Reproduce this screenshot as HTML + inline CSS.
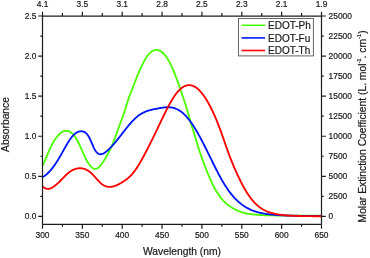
<!DOCTYPE html>
<html><head><meta charset="utf-8"><style>
html,body{margin:0;padding:0;background:#fff;width:370px;height:258px;overflow:hidden}
svg{display:block}
</style></head><body>
<svg width="370" height="258" viewBox="0 0 370 258"><g fill="none" stroke-width="1.85" stroke-linejoin="round" stroke-linecap="butt"><path d="M42.50,165.25 43.00,164.46 43.50,163.57 44.00,162.60 44.50,161.54 45.00,160.43 45.50,159.27 46.00,158.07 46.50,156.85 47.00,155.62 47.50,154.40 48.00,153.19 48.50,152.01 49.00,150.86 49.50,149.75 50.00,148.66 50.50,147.61 51.00,146.59 51.50,145.60 52.00,144.64 52.50,143.71 53.00,142.81 53.50,141.95 54.00,141.11 54.50,140.31 55.00,139.54 55.50,138.80 56.00,138.09 56.50,137.41 57.00,136.77 57.50,136.15 58.00,135.57 58.50,135.02 59.00,134.50 59.50,134.01 60.00,133.56 60.50,133.13 61.00,132.75 61.50,132.39 62.00,132.07 62.50,131.78 63.00,131.53 63.50,131.32 64.00,131.13 64.50,130.99 65.00,130.88 65.50,130.80 66.00,130.77 66.50,130.77 67.00,130.80 67.50,130.88 68.00,130.99 68.50,131.14 69.00,131.33 69.50,131.56 70.00,131.83 70.50,132.13 71.00,132.48 71.50,132.87 72.00,133.30 72.50,133.77 73.00,134.28 73.50,134.83 74.00,135.42 74.50,136.06 75.00,136.74 75.50,137.46 76.00,138.22 76.50,139.03 77.00,139.89 77.50,140.78 78.00,141.72 78.50,142.71 79.00,143.73 79.50,144.79 80.00,145.88 80.50,146.99 81.00,148.12 81.50,149.25 82.00,150.40 82.50,151.54 83.00,152.68 83.50,153.81 84.00,154.92 84.50,156.00 85.00,157.06 85.50,158.09 86.00,159.09 86.50,160.04 87.00,160.96 87.50,161.84 88.00,162.67 88.50,163.47 89.00,164.21 89.50,164.91 90.00,165.56 90.50,166.16 91.00,166.70 91.50,167.19 92.00,167.63 92.50,168.00 93.00,168.31 93.50,168.57 94.00,168.75 94.50,168.87 95.00,168.93 95.50,168.91 96.00,168.83 96.50,168.68 97.00,168.47 97.50,168.20 98.00,167.87 98.50,167.49 99.00,167.05 99.50,166.57 100.00,166.05 100.50,165.48 101.00,164.87 101.50,164.22 102.00,163.54 102.50,162.83 103.00,162.08 103.50,161.32 104.00,160.52 104.50,159.71 105.00,158.88 105.50,158.04 106.00,157.18 106.50,156.32 107.00,155.44 107.50,154.56 108.00,153.66 108.50,152.74 109.00,151.80 109.50,150.83 110.00,149.82 110.50,148.78 111.00,147.69 111.50,146.56 112.00,145.40 112.50,144.21 113.00,142.98 113.50,141.73 114.00,140.45 114.50,139.15 115.00,137.83 115.50,136.49 116.00,135.14 116.50,133.78 117.00,132.41 117.50,131.03 118.00,129.64 118.50,128.26 119.00,126.88 119.50,125.50 120.00,124.13 120.50,122.77 121.00,121.41 121.50,120.05 122.00,118.68 122.50,117.30 123.00,115.90 123.50,114.48 124.00,113.02 124.50,111.53 125.00,110.00 125.50,108.43 126.00,106.82 126.50,105.20 127.00,103.58 127.50,101.97 128.00,100.40 128.50,98.87 129.00,97.40 129.50,96.01 130.00,94.72 130.50,93.48 131.00,92.22 131.50,90.96 132.00,89.68 132.50,88.40 133.00,87.11 133.50,85.81 134.00,84.52 134.50,83.23 135.00,81.94 135.50,80.66 136.00,79.38 136.50,78.12 137.00,76.87 137.50,75.63 138.00,74.41 138.50,73.21 139.00,72.02 139.50,70.85 140.00,69.70 140.50,68.57 141.00,67.47 141.50,66.38 142.00,65.33 142.50,64.30 143.00,63.30 143.50,62.33 144.00,61.39 144.50,60.48 145.00,59.61 145.50,58.77 146.00,57.97 146.50,57.20 147.00,56.47 147.50,55.79 148.00,55.14 148.50,54.52 149.00,53.95 149.50,53.42 150.00,52.92 150.50,52.46 151.00,52.04 151.50,51.66 152.00,51.31 152.50,51.00 153.00,50.73 153.50,50.50 154.00,50.30 154.50,50.14 155.00,50.02 155.50,49.93 156.00,49.88 156.50,49.87 157.00,49.90 157.50,49.96 158.00,50.06 158.50,50.19 159.00,50.36 159.50,50.57 160.00,50.81 160.50,51.09 161.00,51.40 161.50,51.75 162.00,52.14 162.50,52.56 163.00,53.01 163.50,53.50 164.00,54.03 164.50,54.59 165.00,55.19 165.50,55.82 166.00,56.49 166.50,57.19 167.00,57.93 167.50,58.70 168.00,59.51 168.50,60.35 169.00,61.23 169.50,62.14 170.00,63.08 170.50,64.06 171.00,65.08 171.50,66.12 172.00,67.21 172.50,68.32 173.00,69.47 173.50,70.66 174.00,71.88 174.50,73.12 175.00,74.40 175.50,75.70 176.00,77.03 176.50,78.38 177.00,79.74 177.50,81.13 178.00,82.53 178.50,83.95 179.00,85.38 179.50,86.82 180.00,88.26 180.50,89.72 181.00,91.17 181.50,92.63 182.00,94.09 182.50,95.55 183.00,97.02 183.50,98.50 184.00,99.99 184.50,101.50 185.00,103.03 185.50,104.58 186.00,106.16 186.50,107.78 187.00,109.43 187.50,111.12 188.00,112.86 188.50,114.64 189.00,116.47 189.50,118.35 190.00,120.24 190.50,122.10 191.00,123.86 191.50,125.52 192.00,127.07 192.50,128.57 193.00,130.05 193.50,131.53 194.00,133.06 194.50,134.64 195.00,136.27 195.50,137.94 196.00,139.63 196.50,141.33 197.00,143.02 197.50,144.69 198.00,146.34 198.50,147.94 199.00,149.49 199.50,150.99 200.00,152.45 200.50,153.88 201.00,155.28 201.50,156.68 202.00,158.06 202.50,159.44 203.00,160.81 203.50,162.17 204.00,163.52 204.50,164.85 205.00,166.18 205.50,167.49 206.00,168.79 206.50,170.07 207.00,171.34 207.50,172.59 208.00,173.83 208.50,175.04 209.00,176.24 209.50,177.42 210.00,178.58 210.50,179.72 211.00,180.83 211.50,181.92 212.00,182.99 212.50,184.03 213.00,185.05 213.50,186.04 214.00,187.01 214.50,187.95 215.00,188.86 215.50,189.75 216.00,190.61 216.50,191.44 217.00,192.25 217.50,193.04 218.00,193.81 218.50,194.55 219.00,195.27 219.50,195.97 220.00,196.64 220.50,197.30 221.00,197.93 221.50,198.55 222.00,199.14 222.50,199.72 223.00,200.28 223.50,200.81 224.00,201.34 224.50,201.84 225.00,202.33 225.50,202.80 226.00,203.26 226.50,203.70 227.00,204.13 227.50,204.54 228.00,204.94 228.50,205.33 229.00,205.70 229.50,206.06 230.00,206.41 230.50,206.75 231.00,207.08 231.50,207.40 232.00,207.70 232.50,208.00 233.00,208.29 233.50,208.57 234.00,208.85 234.50,209.11 235.00,209.37 235.50,209.63 236.00,209.87 236.50,210.11 237.00,210.34 237.50,210.57 238.00,210.79 238.50,211.00 239.00,211.20 239.50,211.40 240.00,211.60 240.50,211.78 241.00,211.96 241.50,212.13 242.00,212.29 242.50,212.45 243.00,212.59 243.50,212.73 244.00,212.87 244.50,212.99 245.00,213.12 245.50,213.23 246.00,213.34 246.50,213.45 247.00,213.55 247.50,213.64 248.00,213.73 248.50,213.82 249.00,213.90 249.50,213.98 250.00,214.06 250.50,214.13 251.00,214.20 251.50,214.26 252.00,214.33 252.50,214.38 253.00,214.44 253.50,214.50 254.00,214.55 254.50,214.60 255.00,214.64 255.50,214.69 256.00,214.73 256.50,214.77 257.00,214.81 257.50,214.85 258.00,214.88 258.50,214.91 259.00,214.95 259.50,214.98 260.00,215.01 260.50,215.03 261.00,215.06 261.50,215.08 262.00,215.11 262.50,215.13 263.00,215.15 263.50,215.17 264.00,215.19 264.50,215.21 265.00,215.23 265.50,215.25 266.00,215.26 266.50,215.28 267.00,215.30 267.50,215.31 268.00,215.32 268.50,215.34 269.00,215.35 269.50,215.36 270.00,215.37 270.50,215.38 271.00,215.39 271.50,215.40 272.00,215.41 272.50,215.42 273.00,215.43 273.50,215.44 274.00,215.44 274.50,215.45 275.00,215.46 275.50,215.46 276.00,215.47 276.50,215.48 277.00,215.48 277.50,215.49 278.00,215.49 278.50,215.50 279.00,215.50 279.50,215.51 280.00,215.51 280.50,215.52 281.00,215.52 281.50,215.52 282.00,215.53 282.50,215.53 283.00,215.53 283.50,215.54 284.00,215.54 284.50,215.54 285.00,215.55 285.50,215.55 286.00,215.55 286.50,215.55 287.00,215.55 287.50,215.56 288.00,215.56 288.50,215.56 289.00,215.56 289.50,215.56 290.00,215.57 290.50,215.57 291.00,215.57 291.50,215.57 292.00,215.57 292.50,215.57 293.00,215.57 293.50,215.58 294.00,215.58 294.50,215.58 295.00,215.58 295.50,215.58 296.00,215.58 296.50,215.58 297.00,215.58 297.50,215.58 298.00,215.58 298.50,215.58 299.00,215.59 299.50,215.59 300.00,215.59 300.50,215.59 301.00,215.59 301.50,215.59 302.00,215.59 302.50,215.59 303.00,215.59 303.50,215.59 304.00,215.59 304.50,215.59 305.00,215.59 305.50,215.59 306.00,215.59 306.50,215.59 307.00,215.59 307.50,215.59 308.00,215.59 308.50,215.59 309.00,215.59 309.50,215.59 310.00,215.59 310.50,215.60 311.00,215.60 311.50,215.60 312.00,215.60 312.50,215.60 313.00,215.60 313.50,215.60 314.00,215.60 314.50,215.60 315.00,215.60 315.50,215.60 316.00,215.60 316.50,215.60 317.00,215.60 317.50,215.60 318.00,215.60 318.50,215.60 319.00,215.60 319.50,215.60 320.00,215.60 320.50,215.60 321.00,215.60 321.50,215.60" stroke="#4cff00"/><path d="M42.50,177.11 43.00,176.84 43.50,176.55 44.00,176.24 44.50,175.91 45.00,175.56 45.50,175.19 46.00,174.79 46.50,174.38 47.00,173.95 47.50,173.49 48.00,173.02 48.50,172.53 49.00,172.01 49.50,171.48 50.00,170.93 50.50,170.37 51.00,169.78 51.50,169.18 52.00,168.56 52.50,167.92 53.00,167.27 53.50,166.60 54.00,165.91 54.50,165.21 55.00,164.50 55.50,163.76 56.00,163.02 56.50,162.26 57.00,161.48 57.50,160.69 58.00,159.89 58.50,159.07 59.00,158.24 59.50,157.40 60.00,156.54 60.50,155.67 61.00,154.80 61.50,153.92 62.00,153.03 62.50,152.13 63.00,151.24 63.50,150.34 64.00,149.45 64.50,148.56 65.00,147.67 65.50,146.79 66.00,145.92 66.50,145.06 67.00,144.21 67.50,143.37 68.00,142.55 68.50,141.75 69.00,140.96 69.50,140.20 70.00,139.46 70.50,138.74 71.00,138.05 71.50,137.39 72.00,136.76 72.50,136.16 73.00,135.59 73.50,135.06 74.00,134.56 74.50,134.10 75.00,133.68 75.50,133.29 76.00,132.94 76.50,132.62 77.00,132.34 77.50,132.10 78.00,131.88 78.50,131.70 79.00,131.56 79.50,131.44 80.00,131.36 80.50,131.31 81.00,131.29 81.50,131.29 82.00,131.33 82.50,131.40 83.00,131.51 83.50,131.65 84.00,131.84 84.50,132.08 85.00,132.37 85.50,132.71 86.00,133.12 86.50,133.59 87.00,134.13 87.50,134.74 88.00,135.43 88.50,136.20 89.00,137.05 89.50,138.00 90.00,139.02 90.50,140.11 91.00,141.25 91.50,142.42 92.00,143.60 92.50,144.77 93.00,145.93 93.50,147.04 94.00,148.10 94.50,149.09 95.00,149.99 95.50,150.80 96.00,151.51 96.50,152.13 97.00,152.66 97.50,153.11 98.00,153.48 98.50,153.77 99.00,154.00 99.50,154.15 100.00,154.25 100.50,154.28 101.00,154.25 101.50,154.18 102.00,154.05 102.50,153.88 103.00,153.67 103.50,153.42 104.00,153.13 104.50,152.82 105.00,152.48 105.50,152.11 106.00,151.73 106.50,151.33 107.00,150.92 107.50,150.49 108.00,150.04 108.50,149.59 109.00,149.12 109.50,148.63 110.00,148.14 110.50,147.63 111.00,147.11 111.50,146.58 112.00,146.04 112.50,145.49 113.00,144.93 113.50,144.36 114.00,143.78 114.50,143.20 115.00,142.61 115.50,142.01 116.00,141.40 116.50,140.79 117.00,140.18 117.50,139.55 118.00,138.93 118.50,138.30 119.00,137.67 119.50,137.03 120.00,136.39 120.50,135.75 121.00,135.11 121.50,134.47 122.00,133.82 122.50,133.18 123.00,132.54 123.50,131.90 124.00,131.26 124.50,130.62 125.00,129.98 125.50,129.35 126.00,128.72 126.50,128.10 127.00,127.48 127.50,126.86 128.00,126.25 128.50,125.65 129.00,125.05 129.50,124.46 130.00,123.88 130.50,123.30 131.00,122.74 131.50,122.18 132.00,121.63 132.50,121.10 133.00,120.57 133.50,120.05 134.00,119.55 134.50,119.06 135.00,118.58 135.50,118.11 136.00,117.66 136.50,117.22 137.00,116.79 137.50,116.38 138.00,115.99 138.50,115.61 139.00,115.24 139.50,114.89 140.00,114.56 140.50,114.23 141.00,113.92 141.50,113.62 142.00,113.34 142.50,113.06 143.00,112.80 143.50,112.55 144.00,112.31 144.50,112.08 145.00,111.86 145.50,111.65 146.00,111.45 146.50,111.26 147.00,111.07 147.50,110.90 148.00,110.73 148.50,110.57 149.00,110.42 149.50,110.27 150.00,110.13 150.50,110.00 151.00,109.87 151.50,109.75 152.00,109.63 152.50,109.52 153.00,109.41 153.50,109.30 154.00,109.20 154.50,109.10 155.00,109.00 155.50,108.91 156.00,108.81 156.50,108.72 157.00,108.63 157.50,108.54 158.00,108.45 158.50,108.36 159.00,108.27 159.50,108.18 160.00,108.09 160.50,108.00 161.00,107.92 161.50,107.83 162.00,107.75 162.50,107.67 163.00,107.60 163.50,107.53 164.00,107.47 164.50,107.41 165.00,107.35 165.50,107.31 166.00,107.27 166.50,107.24 167.00,107.22 167.50,107.20 168.00,107.20 168.50,107.21 169.00,107.23 169.50,107.25 170.00,107.30 170.50,107.35 171.00,107.41 171.50,107.49 172.00,107.58 172.50,107.69 173.00,107.80 173.50,107.93 174.00,108.07 174.50,108.23 175.00,108.40 175.50,108.59 176.00,108.79 176.50,109.00 177.00,109.23 177.50,109.47 178.00,109.73 178.50,110.01 179.00,110.30 179.50,110.60 180.00,110.92 180.50,111.26 181.00,111.62 181.50,111.99 182.00,112.38 182.50,112.78 183.00,113.21 183.50,113.65 184.00,114.11 184.50,114.58 185.00,115.08 185.50,115.59 186.00,116.12 186.50,116.67 187.00,117.24 187.50,117.82 188.00,118.43 188.50,119.04 189.00,119.68 189.50,120.33 190.00,120.99 190.50,121.68 191.00,122.37 191.50,123.08 192.00,123.81 192.50,124.55 193.00,125.30 193.50,126.07 194.00,126.85 194.50,127.65 195.00,128.45 195.50,129.27 196.00,130.10 196.50,130.95 197.00,131.80 197.50,132.67 198.00,133.54 198.50,134.43 199.00,135.33 199.50,136.23 200.00,137.15 200.50,138.08 201.00,139.01 201.50,139.96 202.00,140.91 202.50,141.87 203.00,142.84 203.50,143.81 204.00,144.79 204.50,145.78 205.00,146.77 205.50,147.77 206.00,148.77 206.50,149.78 207.00,150.78 207.50,151.80 208.00,152.81 208.50,153.83 209.00,154.84 209.50,155.86 210.00,156.88 210.50,157.90 211.00,158.92 211.50,159.94 212.00,160.95 212.50,161.97 213.00,162.98 213.50,163.99 214.00,164.99 214.50,166.00 215.00,166.99 215.50,167.99 216.00,168.97 216.50,169.96 217.00,170.93 217.50,171.90 218.00,172.86 218.50,173.81 219.00,174.76 219.50,175.69 220.00,176.62 220.50,177.54 221.00,178.44 221.50,179.34 222.00,180.22 222.50,181.10 223.00,181.96 223.50,182.81 224.00,183.64 224.50,184.46 225.00,185.27 225.50,186.06 226.00,186.84 226.50,187.60 227.00,188.35 227.50,189.08 228.00,189.80 228.50,190.50 229.00,191.19 229.50,191.87 230.00,192.53 230.50,193.18 231.00,193.81 231.50,194.43 232.00,195.03 232.50,195.63 233.00,196.21 233.50,196.77 234.00,197.33 234.50,197.87 235.00,198.40 235.50,198.92 236.00,199.42 236.50,199.92 237.00,200.40 237.50,200.87 238.00,201.33 238.50,201.78 239.00,202.22 239.50,202.64 240.00,203.06 240.50,203.47 241.00,203.86 241.50,204.25 242.00,204.62 242.50,204.99 243.00,205.34 243.50,205.69 244.00,206.03 244.50,206.35 245.00,206.67 245.50,206.98 246.00,207.29 246.50,207.58 247.00,207.87 247.50,208.14 248.00,208.41 248.50,208.67 249.00,208.93 249.50,209.17 250.00,209.41 250.50,209.65 251.00,209.87 251.50,210.09 252.00,210.29 252.50,210.49 253.00,210.69 253.50,210.88 254.00,211.06 254.50,211.23 255.00,211.40 255.50,211.56 256.00,211.72 256.50,211.87 257.00,212.01 257.50,212.15 258.00,212.29 258.50,212.42 259.00,212.54 259.50,212.67 260.00,212.78 260.50,212.90 261.00,213.01 261.50,213.11 262.00,213.21 262.50,213.31 263.00,213.41 263.50,213.50 264.00,213.59 264.50,213.67 265.00,213.75 265.50,213.83 266.00,213.91 266.50,213.98 267.00,214.05 267.50,214.12 268.00,214.19 268.50,214.25 269.00,214.31 269.50,214.37 270.00,214.43 270.50,214.48 271.00,214.54 271.50,214.59 272.00,214.64 272.50,214.69 273.00,214.73 273.50,214.78 274.00,214.82 274.50,214.86 275.00,214.90 275.50,214.94 276.00,214.98 276.50,215.01 277.00,215.05 277.50,215.08 278.00,215.11 278.50,215.15 279.00,215.18 279.50,215.21 280.00,215.23 280.50,215.26 281.00,215.29 281.50,215.31 282.00,215.34 282.50,215.36 283.00,215.38 283.50,215.40 284.00,215.42 284.50,215.44 285.00,215.46 285.50,215.48 286.00,215.50 286.50,215.52 287.00,215.54 287.50,215.55 288.00,215.57 288.50,215.58 289.00,215.60 289.50,215.61 290.00,215.63 290.50,215.64 291.00,215.65 291.50,215.66 292.00,215.68 292.50,215.69 293.00,215.70 293.50,215.71 294.00,215.72 294.50,215.73 295.00,215.74 295.50,215.75 296.00,215.76 296.50,215.76 297.00,215.77 297.50,215.78 298.00,215.79 298.50,215.80 299.00,215.80 299.50,215.81 300.00,215.82 300.50,215.82 301.00,215.83 301.50,215.84 302.00,215.84 302.50,215.85 303.00,215.85 303.50,215.86 304.00,215.86 304.50,215.87 305.00,215.87 305.50,215.88 306.00,215.88 306.50,215.89 307.00,215.89 307.50,215.89 308.00,215.90 308.50,215.90 309.00,215.90 309.50,215.91 310.00,215.91 310.50,215.91 311.00,215.92 311.50,215.92 312.00,215.92 312.50,215.93 313.00,215.93 313.50,215.93 314.00,215.93 314.50,215.94 315.00,215.94 315.50,215.94 316.00,215.94 316.50,215.94 317.00,215.95 317.50,215.95 318.00,215.95 318.50,215.95 319.00,215.95 319.50,215.95 320.00,215.96 320.50,215.96 321.00,215.96 321.50,215.96" stroke="#0018f8"/><path d="M42.50,186.22 43.00,186.73 43.50,187.18 44.00,187.57 44.50,187.91 45.00,188.19 45.50,188.42 46.00,188.61 46.50,188.74 47.00,188.83 47.50,188.88 48.00,188.88 48.50,188.85 49.00,188.77 49.50,188.66 50.00,188.52 50.50,188.35 51.00,188.14 51.50,187.91 52.00,187.65 52.50,187.36 53.00,187.05 53.50,186.72 54.00,186.37 54.50,186.01 55.00,185.63 55.50,185.24 56.00,184.83 56.50,184.42 57.00,183.99 57.50,183.55 58.00,183.11 58.50,182.65 59.00,182.18 59.50,181.71 60.00,181.22 60.50,180.73 61.00,180.23 61.50,179.72 62.00,179.20 62.50,178.68 63.00,178.15 63.50,177.61 64.00,177.07 64.50,176.54 65.00,176.02 65.50,175.51 66.00,175.01 66.50,174.53 67.00,174.07 67.50,173.63 68.00,173.21 68.50,172.80 69.00,172.41 69.50,172.04 70.00,171.69 70.50,171.35 71.00,171.03 71.50,170.73 72.00,170.44 72.50,170.18 73.00,169.93 73.50,169.69 74.00,169.48 74.50,169.28 75.00,169.10 75.50,168.93 76.00,168.79 76.50,168.66 77.00,168.55 77.50,168.45 78.00,168.37 78.50,168.31 79.00,168.27 79.50,168.24 80.00,168.23 80.50,168.24 81.00,168.26 81.50,168.31 82.00,168.37 82.50,168.45 83.00,168.55 83.50,168.67 84.00,168.81 84.50,168.97 85.00,169.15 85.50,169.34 86.00,169.56 86.50,169.80 87.00,170.06 87.50,170.33 88.00,170.63 88.50,170.95 89.00,171.29 89.50,171.65 90.00,172.04 90.50,172.44 91.00,172.87 91.50,173.32 92.00,173.79 92.50,174.28 93.00,174.80 93.50,175.33 94.00,175.87 94.50,176.42 95.00,176.99 95.50,177.56 96.00,178.13 96.50,178.70 97.00,179.27 97.50,179.83 98.00,180.39 98.50,180.93 99.00,181.46 99.50,181.97 100.00,182.47 100.50,182.94 101.00,183.38 101.50,183.80 102.00,184.19 102.50,184.55 103.00,184.88 103.50,185.18 104.00,185.46 104.50,185.71 105.00,185.94 105.50,186.14 106.00,186.31 106.50,186.46 107.00,186.59 107.50,186.70 108.00,186.78 108.50,186.84 109.00,186.88 109.50,186.90 110.00,186.90 110.50,186.87 111.00,186.83 111.50,186.77 112.00,186.70 112.50,186.60 113.00,186.49 113.50,186.37 114.00,186.22 114.50,186.07 115.00,185.90 115.50,185.71 116.00,185.51 116.50,185.30 117.00,185.08 117.50,184.85 118.00,184.61 118.50,184.35 119.00,184.09 119.50,183.82 120.00,183.54 120.50,183.26 121.00,182.96 121.50,182.67 122.00,182.36 122.50,182.05 123.00,181.74 123.50,181.42 124.00,181.09 124.50,180.76 125.00,180.42 125.50,180.07 126.00,179.71 126.50,179.34 127.00,178.95 127.50,178.55 128.00,178.14 128.50,177.71 129.00,177.27 129.50,176.81 130.00,176.33 130.50,175.84 131.00,175.32 131.50,174.78 132.00,174.23 132.50,173.66 133.00,173.06 133.50,172.45 134.00,171.82 134.50,171.17 135.00,170.50 135.50,169.81 136.00,169.10 136.50,168.37 137.00,167.62 137.50,166.86 138.00,166.07 138.50,165.27 139.00,164.45 139.50,163.61 140.00,162.75 140.50,161.88 141.00,161.00 141.50,160.10 142.00,159.20 142.50,158.28 143.00,157.36 143.50,156.44 144.00,155.51 144.50,154.57 145.00,153.63 145.50,152.68 146.00,151.72 146.50,150.76 147.00,149.80 147.50,148.83 148.00,147.85 148.50,146.87 149.00,145.89 149.50,144.90 150.00,143.90 150.50,142.90 151.00,141.90 151.50,140.90 152.00,139.89 152.50,138.87 153.00,137.85 153.50,136.83 154.00,135.81 154.50,134.78 155.00,133.75 155.50,132.72 156.00,131.68 156.50,130.64 157.00,129.60 157.50,128.56 158.00,127.51 158.50,126.46 159.00,125.41 159.50,124.36 160.00,123.31 160.50,122.26 161.00,121.21 161.50,120.16 162.00,119.11 162.50,118.07 163.00,117.03 163.50,115.99 164.00,114.96 164.50,113.94 165.00,112.92 165.50,111.91 166.00,110.91 166.50,109.92 167.00,108.94 167.50,107.97 168.00,107.01 168.50,106.06 169.00,105.13 169.50,104.21 170.00,103.30 170.50,102.42 171.00,101.54 171.50,100.69 172.00,99.85 172.50,99.03 173.00,98.23 173.50,97.44 174.00,96.68 174.50,95.95 175.00,95.23 175.50,94.54 176.00,93.87 176.50,93.22 177.00,92.60 177.50,92.00 178.00,91.43 178.50,90.89 179.00,90.36 179.50,89.87 180.00,89.39 180.50,88.95 181.00,88.52 181.50,88.13 182.00,87.75 182.50,87.40 183.00,87.08 183.50,86.78 184.00,86.51 184.50,86.26 185.00,86.04 185.50,85.84 186.00,85.66 186.50,85.52 187.00,85.39 187.50,85.29 188.00,85.22 188.50,85.17 189.00,85.15 189.50,85.15 190.00,85.18 190.50,85.24 191.00,85.31 191.50,85.42 192.00,85.55 192.50,85.70 193.00,85.88 193.50,86.09 194.00,86.32 194.50,86.57 195.00,86.86 195.50,87.16 196.00,87.50 196.50,87.85 197.00,88.23 197.50,88.64 198.00,89.07 198.50,89.52 199.00,90.00 199.50,90.50 200.00,91.02 200.50,91.57 201.00,92.14 201.50,92.73 202.00,93.35 202.50,93.98 203.00,94.64 203.50,95.32 204.00,96.02 204.50,96.75 205.00,97.49 205.50,98.26 206.00,99.04 206.50,99.85 207.00,100.67 207.50,101.52 208.00,102.38 208.50,103.27 209.00,104.18 209.50,105.10 210.00,106.05 210.50,107.01 211.00,108.00 211.50,109.01 212.00,110.03 212.50,111.08 213.00,112.14 213.50,113.22 214.00,114.33 214.50,115.45 215.00,116.59 215.50,117.76 216.00,118.94 216.50,120.14 217.00,121.35 217.50,122.59 218.00,123.85 218.50,125.13 219.00,126.42 219.50,127.74 220.00,129.07 220.50,130.42 221.00,131.79 221.50,133.18 222.00,134.58 222.50,136.00 223.00,137.43 223.50,138.86 224.00,140.30 224.50,141.75 225.00,143.20 225.50,144.64 226.00,146.08 226.50,147.51 227.00,148.93 227.50,150.34 228.00,151.73 228.50,153.11 229.00,154.47 229.50,155.80 230.00,157.11 230.50,158.40 231.00,159.66 231.50,160.91 232.00,162.14 232.50,163.35 233.00,164.55 233.50,165.73 234.00,166.91 234.50,168.07 235.00,169.22 235.50,170.36 236.00,171.48 236.50,172.60 237.00,173.70 237.50,174.79 238.00,175.86 238.50,176.92 239.00,177.97 239.50,179.01 240.00,180.03 240.50,181.04 241.00,182.03 241.50,183.01 242.00,183.97 242.50,184.92 243.00,185.85 243.50,186.76 244.00,187.66 244.50,188.55 245.00,189.42 245.50,190.27 246.00,191.10 246.50,191.92 247.00,192.72 247.50,193.50 248.00,194.26 248.50,195.01 249.00,195.74 249.50,196.45 250.00,197.14 250.50,197.81 251.00,198.46 251.50,199.10 252.00,199.72 252.50,200.32 253.00,200.91 253.50,201.47 254.00,202.03 254.50,202.56 255.00,203.08 255.50,203.58 256.00,204.07 256.50,204.55 257.00,205.00 257.50,205.45 258.00,205.88 258.50,206.29 259.00,206.70 259.50,207.08 260.00,207.46 260.50,207.82 261.00,208.17 261.50,208.51 262.00,208.83 262.50,209.15 263.00,209.45 263.50,209.73 264.00,210.01 264.50,210.27 265.00,210.52 265.50,210.77 266.00,211.00 266.50,211.22 267.00,211.43 267.50,211.64 268.00,211.83 268.50,212.02 269.00,212.20 269.50,212.37 270.00,212.53 270.50,212.69 271.00,212.84 271.50,212.99 272.00,213.13 272.50,213.26 273.00,213.39 273.50,213.51 274.00,213.63 274.50,213.74 275.00,213.84 275.50,213.95 276.00,214.05 276.50,214.14 277.00,214.23 277.50,214.32 278.00,214.40 278.50,214.48 279.00,214.56 279.50,214.63 280.00,214.70 280.50,214.77 281.00,214.83 281.50,214.89 282.00,214.95 282.50,215.01 283.00,215.06 283.50,215.11 284.00,215.16 284.50,215.21 285.00,215.26 285.50,215.30 286.00,215.34 286.50,215.38 287.00,215.42 287.50,215.46 288.00,215.49 288.50,215.53 289.00,215.56 289.50,215.59 290.00,215.62 290.50,215.65 291.00,215.68 291.50,215.70 292.00,215.73 292.50,215.75 293.00,215.77 293.50,215.80 294.00,215.82 294.50,215.84 295.00,215.86 295.50,215.87 296.00,215.89 296.50,215.91 297.00,215.93 297.50,215.94 298.00,215.96 298.50,215.97 299.00,215.98 299.50,216.00 300.00,216.01 300.50,216.02 301.00,216.03 301.50,216.05 302.00,216.06 302.50,216.07 303.00,216.08 303.50,216.09 304.00,216.09 304.50,216.10 305.00,216.11 305.50,216.12 306.00,216.13 306.50,216.13 307.00,216.14 307.50,216.15 308.00,216.15 308.50,216.16 309.00,216.17 309.50,216.17 310.00,216.18 310.50,216.18 311.00,216.19 311.50,216.19 312.00,216.20 312.50,216.20 313.00,216.20 313.50,216.21 314.00,216.21 314.50,216.22 315.00,216.22 315.50,216.22 316.00,216.23 316.50,216.23 317.00,216.23 317.50,216.24 318.00,216.24 318.50,216.24 319.00,216.24 319.50,216.25 320.00,216.25 320.50,216.25 321.00,216.25 321.50,216.25" stroke="#ff0000"/></g><g stroke="#1c1c1c" stroke-width="1.2" fill="none"><path d="M42.5,224.4 H321.5 M42.5,16.0 V224.4 M321.5,16.0 V224.4"/><path d="M42.5,16.1 H321.5" stroke-width="1.35"/><path d="M42.50,224.4 v4.4 M42.50,16.0 v-4.3 M62.43,224.4 v2.4 M62.43,16.0 v-3 M82.36,224.4 v4.4 M82.36,16.0 v-4.3 M102.29,224.4 v2.4 M102.29,16.0 v-3 M122.21,224.4 v4.4 M122.21,16.0 v-4.3 M142.14,224.4 v2.4 M142.14,16.0 v-3 M162.07,224.4 v4.4 M162.07,16.0 v-4.3 M182.00,224.4 v2.4 M182.00,16.0 v-3 M201.93,224.4 v4.4 M201.93,16.0 v-4.3 M221.86,224.4 v2.4 M221.86,16.0 v-3 M241.79,224.4 v4.4 M241.79,16.0 v-4.3 M261.71,224.4 v2.4 M261.71,16.0 v-3 M281.64,224.4 v4.4 M281.64,16.0 v-4.3 M301.57,224.4 v2.4 M301.57,16.0 v-3 M321.50,224.4 v4.4 M321.50,16.0 v-4.3 M42.5,216.38 h-4.3 M321.5,216.38 h4.3 M42.5,196.35 h-2.2 M321.5,196.35 h2.2 M42.5,176.31 h-4.3 M321.5,176.31 h4.3 M42.5,156.27 h-2.2 M321.5,156.27 h2.2 M42.5,136.23 h-4.3 M321.5,136.23 h4.3 M42.5,116.19 h-2.2 M321.5,116.19 h2.2 M42.5,96.15 h-4.3 M321.5,96.15 h4.3 M42.5,76.12 h-2.2 M321.5,76.12 h2.2 M42.5,56.08 h-4.3 M321.5,56.08 h4.3 M42.5,36.04 h-2.2 M321.5,36.04 h2.2 M42.5,16.00 h-4.3 M321.5,16.00 h4.3"/></g><g fill="#1a1a1a" stroke="#1a1a1a" stroke-width="0.2" font-family="'Liberation Sans', Arial, sans-serif"><text x="42.50" y="238.3" font-size="8.4" text-anchor="middle">300</text><text x="82.36" y="238.3" font-size="8.4" text-anchor="middle">350</text><text x="122.21" y="238.3" font-size="8.4" text-anchor="middle">400</text><text x="162.07" y="238.3" font-size="8.4" text-anchor="middle">450</text><text x="201.93" y="238.3" font-size="8.4" text-anchor="middle">500</text><text x="241.79" y="238.3" font-size="8.4" text-anchor="middle">550</text><text x="281.64" y="238.3" font-size="8.4" text-anchor="middle">600</text><text x="321.50" y="238.3" font-size="8.4" text-anchor="middle">650</text><text x="42.50" y="6.9" font-size="8.4" text-anchor="middle">4.1</text><text x="82.36" y="6.9" font-size="8.4" text-anchor="middle">3.5</text><text x="122.21" y="6.9" font-size="8.4" text-anchor="middle">3.1</text><text x="162.07" y="6.9" font-size="8.4" text-anchor="middle">2.8</text><text x="201.93" y="6.9" font-size="8.4" text-anchor="middle">2.5</text><text x="241.79" y="6.9" font-size="8.4" text-anchor="middle">2.3</text><text x="281.64" y="6.9" font-size="8.4" text-anchor="middle">2.1</text><text x="321.50" y="6.9" font-size="8.4" text-anchor="middle">1.9</text><text x="36.3" y="219.38" font-size="8.4" text-anchor="end">0.0</text><text x="36.3" y="179.31" font-size="8.4" text-anchor="end">0.5</text><text x="36.3" y="139.23" font-size="8.4" text-anchor="end">1.0</text><text x="36.3" y="99.15" font-size="8.4" text-anchor="end">1.5</text><text x="36.3" y="59.08" font-size="8.4" text-anchor="end">2.0</text><text x="36.3" y="19.00" font-size="8.4" text-anchor="end">2.5</text><text x="328.6" y="219.38" font-size="8.4" text-anchor="start">0</text><text x="328.6" y="199.35" font-size="8.4" text-anchor="start">2500</text><text x="328.6" y="179.31" font-size="8.4" text-anchor="start">5000</text><text x="328.6" y="159.27" font-size="8.4" text-anchor="start">7500</text><text x="328.6" y="139.23" font-size="8.4" text-anchor="start">10000</text><text x="328.6" y="119.19" font-size="8.4" text-anchor="start">12500</text><text x="328.6" y="99.15" font-size="8.4" text-anchor="start">15000</text><text x="328.6" y="79.12" font-size="8.4" text-anchor="start">17500</text><text x="328.6" y="59.08" font-size="8.4" text-anchor="start">20000</text><text x="328.6" y="39.04" font-size="8.4" text-anchor="start">22500</text><text x="328.6" y="19.00" font-size="8.4" text-anchor="start">25000</text><text x="182.0" y="254.7" font-size="10.3" text-anchor="middle">Wavelength (nm)</text><text transform="translate(8.7,124.5) rotate(-90)" font-size="10.3" text-anchor="middle">Absorbance</text><text transform="translate(366.2,126.4) rotate(-90)" font-size="10.3" text-anchor="middle">Molar Extinction Coefficient (L. mol<tspan dy="-5.2" font-size="5.8">-1</tspan><tspan dy="5.2">. cm</tspan><tspan dy="-5.2" font-size="5.8">-1</tspan><tspan dy="5.2">)</tspan></text></g><rect x="238.5" y="18.5" width="74.9" height="37.4" fill="#fff" stroke="#666" stroke-width="1"/><path d="M241.5,25.30 H265.1" stroke="#4cff00" stroke-width="1.6"/><text x="268" y="28.90" font-size="10" fill="#1a1a1a" stroke="#1a1a1a" stroke-width="0.2" font-family="'Liberation Sans', Arial, sans-serif">EDOT-Ph</text><path d="M241.5,37.90 H265.1" stroke="#0018f8" stroke-width="1.6"/><text x="268" y="41.50" font-size="10" fill="#1a1a1a" stroke="#1a1a1a" stroke-width="0.2" font-family="'Liberation Sans', Arial, sans-serif">EDOT-Fu</text><path d="M241.5,50.50 H265.1" stroke="#ff0000" stroke-width="1.6"/><text x="268" y="54.10" font-size="10" fill="#1a1a1a" stroke="#1a1a1a" stroke-width="0.2" font-family="'Liberation Sans', Arial, sans-serif">EDOT-Th</text></svg>
</body></html>
